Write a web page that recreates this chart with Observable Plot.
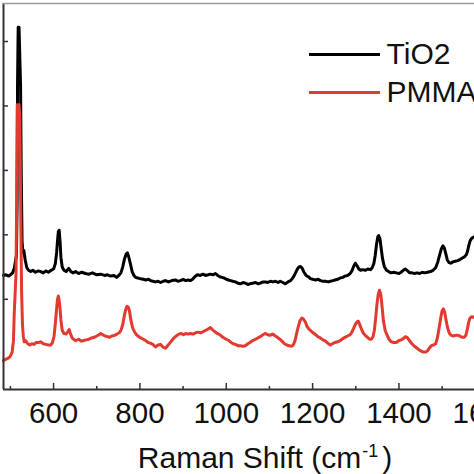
<!DOCTYPE html>
<html><head><meta charset="utf-8">
<script src="https://cdn.jsdelivr.net/npm/d3@7"></script>
<script src="https://cdn.jsdelivr.net/npm/@observablehq/plot@0.6"></script>
<style>
html,body{margin:0;padding:0;background:#fff;overflow:hidden}
#chart{width:474px;height:474px;overflow:hidden}
</style></head><body><div id="chart"></div>
<script>
// ---- data (Raman shift in cm-1, intensity a.u.) ----
const tio2Shift = [484,490,496,500,505,509,512,514,515.5,516.5,518,520,522,523.5,525,527,529,531,534,538,542,547,552,558,565,570,576,582,588,594,600,604,607,609,611,613,615,617,620,624,629,635,640,645,651,658,665,674,682,690,700,709,718,725,732,740,746,751,756,760,764,768,771,774,778,782,786,790,795,801,808,813,820,825,830,836,842,848,854,859,866,874,882,888,894,900,906,912,917,922,927,933,940,946,952,958,963,969,975,980,985,990,995,1000,1005,1010,1015,1021,1027,1033,1039,1044,1050,1055,1061,1068,1074,1079,1085,1091,1096,1102,1108,1114,1120,1125,1131,1137,1143,1149,1154,1159,1164,1168,1172,1176,1180,1185,1190,1195,1200,1207,1213,1218,1224,1230,1236,1241,1247,1252,1258,1264,1270,1275,1281,1287,1291,1295,1299,1303,1307,1311,1316,1322,1328,1334,1338,1342,1345,1348,1351,1353,1356,1359,1362,1366,1371,1376,1382,1388,1394,1400,1405,1410,1415,1420,1425,1430,1436,1442,1448,1454,1460,1466,1473,1479,1485,1490,1494,1498,1502,1505,1508,1512,1516,1520,1525,1530,1536,1542,1547,1552,1556,1559,1562,1565,1569,1572,1575];
const tio2Intensity = [137,138,136,138,141,148,160,168,250,432,522,522,470,432,300,190,172,176,162,149,145,143,145,142,144,143,141,144,142,145,147,155,172,190,205,207,190,165,150,145,143,148,143,141,143,140,142,140,139,141,138,139,137,138,136,137,134,137,141,150,162,170,172,166,155,143,137,134,133,132,131,130,131,129,128,127,128,126,128,129,127,129,130,128,129,131,129,130,129,131,135,138,137,139,137,138,139,138,140,137,135,134,133,131,130,129,128,127,125,124,126,125,123,124,125,126,124,125,127,127,126,128,127,128,126,128,126,124,127,129,133,139,146,150,151,148,142,137,135,132,131,130,131,129,128,128,127,128,129,130,131,133,134,136,137,140,144,151,156,152,147,145,146,145,147,146,149,156,168,185,197,199,194,178,163,151,145,143,141,142,141,140,142,145,147,144,141,141,140,141,140,142,141,142,143,145,149,158,168,178,183,180,172,161,157,156,158,159,160,162,164,166,169,175,184,191,195,196,197];
const pmmaShift = [484,490,496,500,504,507,509,511,513,514.5,516,518,520,522,523,524.5,526,528,530,532,535,540,545,550,555,560,565,570,576,582,588,593,597,601,604,607,609,611,613,615,617,620,624,629,633,636,639,643,648,652,658,665,670,675,682,688,694,700,705,709,714,719,725,730,735,741,747,752,756,760,764,767,770,773,776,779,783,787,792,797,802,808,813,819,824,830,836,842,848,853,859,864,869,874,879,884,890,896,901,906,912,917,923,929,935,941,947,953,958,963,968,973,979,985,990,995,1000,1006,1011,1016,1021,1027,1033,1038,1044,1050,1055,1061,1068,1073,1079,1085,1091,1096,1101,1107,1112,1118,1124,1129,1135,1140,1146,1151,1155,1159,1163,1167,1171,1175,1179,1183,1187,1191,1196,1201,1207,1212,1218,1224,1230,1235,1241,1246,1252,1258,1264,1270,1275,1281,1287,1291,1295,1299,1303,1306,1309,1313,1317,1322,1327,1332,1336,1340,1343,1346,1349,1352,1355,1358,1361,1364,1368,1372,1377,1382,1388,1394,1400,1405,1410,1415,1419,1424,1430,1436,1442,1448,1453,1458,1462,1466,1470,1475,1480,1485,1489,1493,1497,1500,1503,1506,1509,1513,1517,1521,1526,1531,1536,1541,1546,1551,1555,1558,1561,1564,1568,1572,1575];
const pmmaIntensity = [5,7,9,12,18,35,80,110,140,250,402,402,402,380,300,200,110,60,42,34,36,31,29,31,30,33,33,34,31,30,29,29,32,42,62,85,100,105,98,85,68,52,47,46,50,53,47,40,37,36,38,35,36,37,38,40,41,43,45,47,45,43,42,41,43,44,46,48,52,60,75,84,89,88,81,68,56,50,45,42,40,38,36,33,32,30,26,29,30,26,24,28,32,36,40,43,46,47,45,47,46,47,46,48,49,48,50,52,54,56,53,50,47,45,42,40,38,36,33,31,30,28,28,27,28,31,33,36,38,40,42,45,47,45,44,46,44,41,38,35,31,29,28,27,29,35,47,58,67,71,69,65,58,54,51,48,45,42,40,37,35,32,29,31,33,34,36,39,41,43,45,49,55,61,65,66,61,54,48,44,41,38,38,42,52,70,92,108,114,107,88,67,52,45,38,34,33,33,36,37,39,42,41,36,31,27,24,21,19,18,18,20,24,28,29,31,40,55,72,82,85,80,68,55,47,44,43,44,44,43,41,41,44,52,63,70,73,72,73];
const seriesNames = ["TiO2", "PMMA"];
const seriesColors = ["#000000", "#e3392e"];
const xMajorTicks = [600, 800, 1000, 1200, 1400, 1600];
const xMinorTicks = [500, 700, 900, 1100, 1300, 1500];
const yTicks = [100, 200, 300, 400, 500];
const xTitleMain = "Raman Shift (cm";
const xTitleSup = "-1";
const xTitleEnd = ")";

// ---- layout ----
const W = 474, H = 474, mL = 3, mR = 0, mT = 3, mB = 85;
const xDomain = [484, 1575], yDomain = [-40, 559];
const plotW = W - mL - mR, plotH = H - mT - mB;
const FONT = "'Liberation Sans', Arial, Helvetica, sans-serif";

const rows = [
  ...tio2Shift.map((s, i) => ({shift: s, intensity: tio2Intensity[i], series: seriesNames[0]})),
  ...pmmaShift.map((s, i) => ({shift: s, intensity: pmmaIntensity[i], series: seriesNames[1]}))
];

// legend placement (pixel layout -> data space via the same linear mapping)
const px2x = d3.scaleLinear().domain(xDomain).range([mL, W - mR]);
const px2y = d3.scaleLinear().domain(yDomain).range([H - mB, mT]);
const legendRows = seriesNames.map((name, i) => ({
  name, color: seriesColors[i],
  x1: px2x.invert(309), x2: px2x.invert(380), xt: px2x.invert(386),
  y: px2y.invert(54 + i * 38)
}));

const chart = Plot.plot({
  width: W, height: H,
  marginLeft: mL, marginRight: mR, marginTop: mT, marginBottom: mB,
  style: {fontFamily: FONT, background: "#fff", color: "#111", overflow: "hidden"},
  x: {domain: xDomain, axis: null},
  y: {domain: yDomain, axis: null},
  color: {domain: seriesNames, range: seriesColors},
  marks: [
    Plot.line(rows, {x: "shift", y: "intensity", z: "series", stroke: "series", strokeWidth: 3, strokeLinejoin: "round"}),
    // frame
    Plot.ruleX([xDomain[0]], {stroke: "#333", strokeWidth: 2}),
    Plot.ruleY([yDomain[0]], {stroke: "#333", strokeWidth: 2}),
    Plot.ruleY([yDomain[1]], {stroke: "#9a9a9a", strokeWidth: 1.5}),
    // inward ticks
    Plot.tickY(yTicks, {y: d => d, stroke: "#333", strokeWidth: 1.5, insetRight: plotW - 5}),
    Plot.tickX(xMajorTicks, {x: d => d, stroke: "#333", strokeWidth: 1.5, insetTop: plotH - 6}),
    Plot.tickX(xMinorTicks, {x: d => d, stroke: "#333", strokeWidth: 1.5, insetTop: plotH - 3}),
    // tick labels
    Plot.text(xMajorTicks, {x: d => d, text: d => String(d), frameAnchor: "bottom", lineAnchor: "top", dy: 13, fontSize: 29.5, fill: "#111"}),
    // axis title
    Plot.text([xTitleMain + xTitleSup + xTitleEnd], {frameAnchor: "bottom", lineAnchor: "top", dy: 57, dx: 26, fontSize: 30, fill: "#111"}),
    // legend
    Plot.ruleY(legendRows, {y: "y", x1: "x1", x2: "x2", stroke: "color", strokeWidth: 3.2}),
    Plot.text(legendRows, {x: "xt", y: "y", text: "name", textAnchor: "start", lineAnchor: "middle", fontSize: 30, fill: "#111"})
  ]
});

// superscript in the axis title
for (const t of chart.querySelectorAll("text")) {
  if (t.textContent === xTitleMain + xTitleSup + xTitleEnd) {
    t.textContent = "";
    const ns = "http://www.w3.org/2000/svg";
    const a = document.createElementNS(ns, "tspan"); a.textContent = xTitleMain;
    const b = document.createElementNS(ns, "tspan"); b.textContent = xTitleSup;
    b.setAttribute("font-size", "18"); b.setAttribute("dy", "-11"); b.setAttribute("dx", "1");
    const c = document.createElementNS(ns, "tspan"); c.textContent = xTitleEnd;
    c.setAttribute("dy", "11"); c.setAttribute("dx", "4");
    t.append(a, b, c);
  }
}
document.getElementById("chart").append(chart);
</script></body></html>
